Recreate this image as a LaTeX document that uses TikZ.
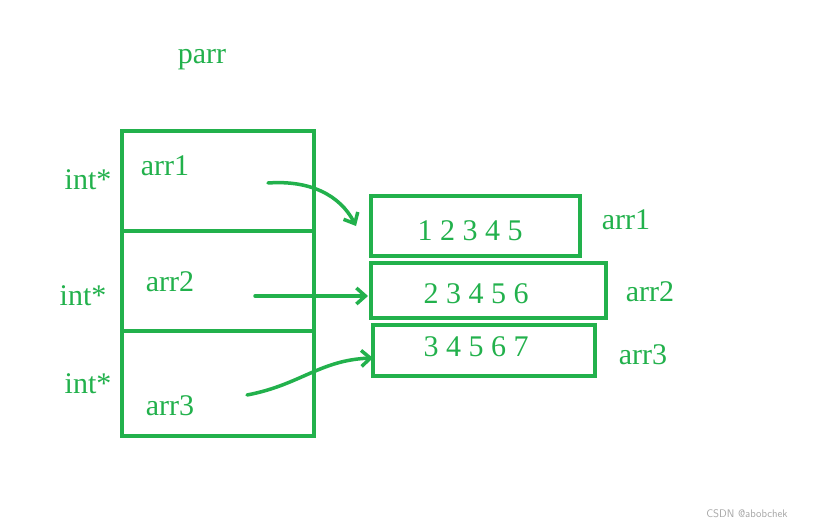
\documentclass[tikz,border=0pt]{standalone}
\usepackage{fontspec}
\setmainfont{Liberation Serif}
\usetikzlibrary{arrows.meta}
\definecolor{g}{RGB}{34,177,76}
\tikzset{box/.style={draw=g,line width=3.5pt},
 lbl/.style={text=g,font=\fontsize{30}{32}\selectfont,inner sep=0pt},
 arr/.style={draw=g,line width=3.5pt,-{Straight Barb[length=9pt,width=16pt]},line cap=round}}
\begin{document}
\begin{tikzpicture}[x=1pt,y=-1pt]
\useasboundingbox (0,0) rectangle (823,530);
\fill[white] (0,0) rectangle (823,530);
\draw[box] (122,131) rectangle (314,436);
\draw[box] (122,231) -- (314,231);
\draw[box] (122,331) -- (314,331);
\draw[box] (371,196) rectangle (580,256);
\draw[box] (371,263) rectangle (606,318);
\draw[box] (373,325) rectangle (595,376);
\node[lbl] (parr) at (202,60) {parr};
\node[lbl] (i1) at (88,180) {int*};
\node[lbl] (i2) at (83,296) {int*};
\node[lbl] (i3) at (88,384) {int*};
\node[lbl] (a1) at (165,166) {arr1};
\node[lbl] (a2) at (170,282) {arr2};
\node[lbl] (a3) at (170,406) {arr3};
\node[lbl] (n1) at (470,231) {1 2 3 4 5};
\node[lbl] (n2) at (476,294) {2 3 4 5 6};
\node[lbl] (n3) at (476,347) {3 4 5 6 7};
\node[lbl] (b1) at (626,220) {arr1};
\node[lbl] (b2) at (650,292) {arr2};
\node[lbl] (b3) at (643,355) {arr3};
\node[text=gray!70,font=\sffamily\fontsize{11}{12}\selectfont] (wm) at (747,514) {CSDN @abobchek};
\coordinate (s1) at (268,183); \coordinate (e1) at (356,226);
\coordinate (s2) at (255,296); \coordinate (e2) at (368,296);
\coordinate (s3) at (247,395); \coordinate (e3) at (373,358);
\draw[arr] (s1) .. controls (310,180) and (340,195) .. (e1);
\draw[arr] (s2) -- (e2);
\draw[arr] (s3) .. controls (300,385) and (320,360) .. (e3);
\end{tikzpicture}
\end{document}
